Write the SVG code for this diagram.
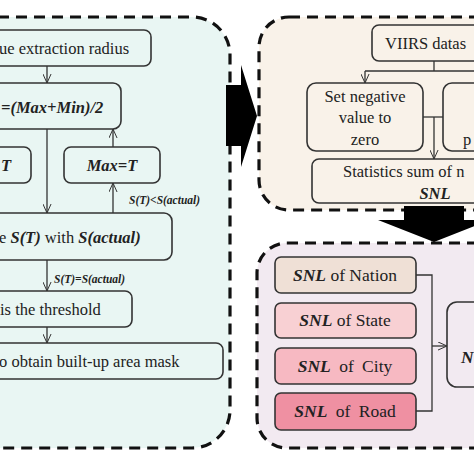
<svg xmlns="http://www.w3.org/2000/svg" width="474" height="474" viewBox="0 0 474 474">
<defs>
<marker id="ah" viewBox="0 0 10 10" refX="10" refY="5" markerWidth="9" markerHeight="9" markerUnits="userSpaceOnUse" orient="auto">
<path d="M0,0.5 L10,5 L0,9.5" fill="none" stroke="#333" stroke-width="1.1"/>
</marker>
<style>
.panel{stroke:#111;stroke-width:3.2;stroke-dasharray:11 7}
.box{fill:none;stroke:#333;stroke-width:1.6}
.t{font-family:"Liberation Serif","Times New Roman",serif;font-size:16.5px;fill:#222}
.bi{font-weight:bold;font-style:italic}
.lbl{font-family:"Liberation Serif","Times New Roman",serif;font-size:11.5px;font-weight:bold;font-style:italic;fill:#222}
.ln{fill:none;stroke:#333;stroke-width:1.3}
.big{fill:#000}
</style>
</defs>
<rect width="474" height="474" fill="#fff"/>

<g id="panel-left">
<rect class="panel" x="-40" y="17" width="270" height="431" rx="38" fill="#e9f6f3"/>
</g>
<g id="panel-right-top">
<rect class="panel" x="259" y="17" width="260" height="193" rx="30" fill="#f9f2e9"/>
</g>
<g id="panel-right-bottom">
<rect class="panel" x="257" y="243" width="262" height="205" rx="30" fill="#f2eaf1"/>
</g>

<g id="n1"><rect class="box" x="-20" y="30" width="171" height="36" rx="7"/>
<text class="t" x="-1" y="54">ue extraction radius</text></g>
<g id="n2"><rect class="box" x="-20" y="83" width="141" height="46" rx="8"/>
<text class="t bi" x="1" y="113">=(Max+Min)/2</text></g>
<g id="n3"><rect class="box" x="-20" y="147" width="51" height="36" rx="7"/>
<text class="t bi" x="11" y="171" text-anchor="end">T</text></g>
<g id="n4"><rect class="box" x="64" y="147" width="96" height="36" rx="7"/>
<text class="t bi" x="112" y="171" text-anchor="middle">Max=T</text></g>
<g id="n5"><rect class="box" x="-20" y="213" width="192" height="47" rx="8"/>
<text class="t" x="-1" y="243">e <tspan class="bi">S(T)</tspan> with <tspan class="bi">S(actual)</tspan></text></g>
<g id="n6"><rect class="box" x="-20" y="291" width="152" height="36" rx="7"/>
<text class="t" x="0" y="315">is the threshold</text></g>
<g id="n7"><rect class="box" x="-20" y="343" width="243" height="36" rx="7"/>
<text class="t" x="-1" y="367">o obtain built-up area mask</text></g>

<g id="r1"><rect class="box" x="372" y="25" width="130" height="36" rx="7"/>
<text class="t" x="385" y="49">VIIRS datas</text></g>
<g id="r2"><rect class="box" x="307" y="83" width="116" height="68" rx="9"/>
<text class="t" x="365" y="102" text-anchor="middle">Set negative</text>
<text class="t" x="365" y="123" text-anchor="middle">value to</text>
<text class="t" x="365" y="145" text-anchor="middle">zero</text></g>
<g id="r3"><rect class="box" x="443" y="83" width="60" height="68" rx="9"/>
<text class="t" x="463" y="145">p</text></g>
<g id="r4"><rect class="box" x="312" y="159" width="190" height="44" rx="7"/>
<text class="t" x="343" y="177">Statistics sum of n</text>
<text class="t bi" x="435" y="199" text-anchor="middle">SNL</text></g>

<g id="s1"><rect x="275" y="257" width="141" height="36" rx="6" fill="#efe0d6" stroke="#333" stroke-width="1.6"/>
<text class="t" x="345" y="281" text-anchor="middle" style="font-size:17.5px"><tspan class="bi">SNL</tspan> of Nation</text></g>
<g id="s2"><rect x="275" y="303" width="141" height="35" rx="6" fill="#f8d0d3" stroke="#333" stroke-width="1.6"/>
<text class="t" x="345" y="326" text-anchor="middle" style="font-size:17.5px"><tspan class="bi">SNL</tspan> of State</text></g>
<g id="s3"><rect x="275" y="348" width="141" height="36" rx="6" fill="#f7b9c2" stroke="#333" stroke-width="1.6"/>
<text class="t" x="345" y="372" text-anchor="middle" style="font-size:17.5px;word-spacing:4px"><tspan class="bi">SNL</tspan> of City</text></g>
<g id="s4"><rect x="275" y="393" width="141" height="37" rx="6" fill="#ef90a2" stroke="#333" stroke-width="1.6"/>
<text class="t" x="345" y="417" text-anchor="middle" style="font-size:17.5px;word-spacing:4px"><tspan class="bi">SNL</tspan> of Road</text></g>
<g id="s5"><rect class="box" x="447" y="302" width="60" height="85" rx="10"/>
<text class="t bi" x="461" y="363" style="font-size:17.5px">N</text></g>

<g id="connectors">
<line class="ln" x1="47" y1="66" x2="47" y2="83" marker-end="url(#ah)"/>
<line class="ln" x1="47" y1="129" x2="47" y2="213" marker-end="url(#ah)"/>
<line class="ln" x1="113" y1="147" x2="113" y2="129" marker-end="url(#ah)"/>
<line class="ln" x1="113" y1="213" x2="113" y2="183" marker-end="url(#ah)"/>
<line class="ln" x1="47" y1="260" x2="47" y2="291" marker-end="url(#ah)"/>
<line class="ln" x1="47" y1="327" x2="47" y2="343" marker-end="url(#ah)"/>
<text class="lbl" x="129" y="204">S(T)&lt;S(actual)</text>
<text class="lbl" x="54" y="283">S(T)=S(actual)</text>

<polyline class="ln" points="434,61 434,71"/>
<polyline class="ln" points="365,71 480,71"/>
<line class="ln" x1="365" y1="71" x2="365" y2="83" marker-end="url(#ah)"/>
<polyline class="ln" points="423,117 443,117"/>
<line class="ln" x1="434" y1="117" x2="434" y2="159" marker-end="url(#ah)"/>

<polyline class="ln" points="416,275 432,275 432,411 416,411"/>
<line class="ln" x1="432" y1="346" x2="447" y2="346" marker-end="url(#ah)"/>

<polygon class="big" points="226,85 241,85 241,65 257,116 241,167 241,146 226,146"/>
<polygon class="big" points="404,206 464,206 464,220 490,220 434,242 378,220 404,220"/>
</g>
</svg>
